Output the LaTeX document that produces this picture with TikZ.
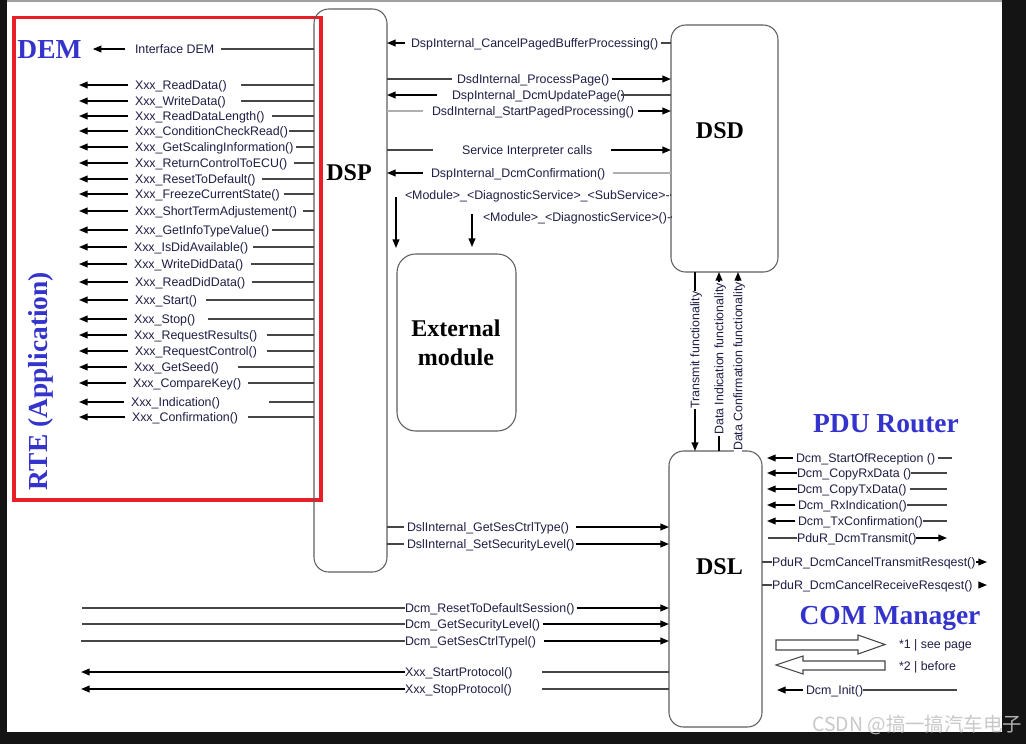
\documentclass[tikz,border=0pt]{standalone}
\usepackage{fontspec}
\setmainfont{Liberation Serif}
\setsansfont{Liberation Sans}
\newfontfamily\cjkf{Noto Sans CJK SC}
\usetikzlibrary{arrows.meta,calc,fit}
\definecolor{txtc}{RGB}{30,30,70}
\definecolor{bluec}{RGB}{52,52,204}
\definecolor{bgdark}{RGB}{20,20,20}
\definecolor{topg}{RGB}{160,160,160}
\definecolor{redc}{RGB}{232,30,40}
\definecolor{boxc}{RGB}{95,95,95}
\definecolor{lineg}{RGB}{70,70,70}
\definecolor{lightg}{RGB}{175,175,175}
\definecolor{wmc}{RGB}{195,195,195}
\tikzset{
  lbl/.style={font=\sffamily\fontsize{9.3}{11}\selectfont, text=txtc, inner sep=0pt, outer sep=0pt, text height=6.7pt, text depth=0pt, anchor=west},
  vlbl/.style={font=\sffamily\fontsize{9.3}{11}\selectfont, text=txtc, inner xsep=0.6pt, inner ysep=0pt, text height=6.7pt, text depth=0pt, rotate=90, fill=white, anchor=center},
  arr/.style={draw=black, line width=1.1pt, -{Triangle[length=6.4pt,width=5pt]}},
  ln/.style={draw=lineg, line width=0.9pt},
  lnl/.style={draw=lightg, line width=0.9pt},
  box/.style={draw=boxc, line width=0.8pt, rounded corners=11pt, inner sep=0pt, outer sep=0pt},
  big/.style={font=\rmfamily\bfseries\fontsize{20.6}{24}\selectfont, text=bluec, inner sep=0pt, text height=13.6pt, text depth=0pt},
  boxlbl/.style={font=\rmfamily\bfseries\fontsize{18}{21.75}\selectfont, text=black, inner sep=0pt, text height=11.9pt, text depth=0pt},
  hollow/.style={draw=lineg, line width=0.8pt, fill=white},
}
\begin{document}
\begin{tikzpicture}[x=0.75pt,y=-0.75pt]
\useasboundingbox (0,0) rectangle (1026,744);
% frame
\fill[bgdark] (0,0) rectangle (1026,744);
\fill[white] (7,2) rectangle (1002,732);
\draw[topg, line width=1.5pt] (7,1) -- (1002,1);
% red highlight
\draw[redc, line width=2.3pt] (14,17.5) rectangle (321,500);

% boxes
\node[box, fit={(314,9) (387,572)}] (dsp) {};
\node[box, fit={(671,25) (778,272)}] (dsd) {};
\node[box, rounded corners=14pt, fit={(397,254) (516,431)}] (ext) {};
\node[box, fit={(669,451) (762,727)}] (dsl) {};
\node[boxlbl] (dsplbl) at (349,173) {DSP};
\node[boxlbl] (dsdlbl) at (720,131) {DSD};
\node[boxlbl] (dsllbl) at (719.5,567) {DSL};
\node[font=\rmfamily\bfseries\fontsize{18}{21.75}\selectfont, align=center, inner sep=0pt] (extlbl) at (456,343) {External\\module};

% big labels
\node[big] (dem) at (49.5,49) {DEM};
\node[big, rotate=90] (rte) at (38,381) {RTE (Application)};
\node[big] (pdur) at (886,423) {PDU Router};
\node[big] (comm) at (890,615) {COM Manager};

% DEM interface
\node[lbl] (ifd) at (135,49) {Interface DEM};
\draw[arr, shorten >=8.25pt] ([xshift=-7.5pt]ifd.west) -- (dem.east);
\draw[ln] ([xshift=5.25pt]ifd.east) -- (ifd.east -| dsp.west);

% RTE list
\foreach \y/\lab/\tx/\sx [count=\i] in {
  85/Xxx\_ReadData()/135/241,
  101/Xxx\_WriteData()/135/241,
  116/Xxx\_ReadDataLength()/135/272,
  131/Xxx\_ConditionCheckRead()/135/289,
  147/Xxx\_GetScalingInformation()/135/296,
  163/Xxx\_ReturnControlToECU()/135/294,
  179/Xxx\_ResetToDefault()/135/262,
  194/Xxx\_FreezeCurrentState()/135/284,
  211/Xxx\_ShortTermAdjustement()/135/303,
  230/Xxx\_GetInfoTypeValue()/135/272,
  247/Xxx\_IsDidAvailable()/134/253,
  264/Xxx\_WriteDidData()/134/251,
  282/Xxx\_ReadDidData()/135/252,
  300/Xxx\_Start()/135/206,
  319/Xxx\_Stop()/134/208,
  335/Xxx\_RequestResults()/134/267,
  351/Xxx\_RequestControl()/135/267,
  367/Xxx\_GetSeed()/134/238,
  383/Xxx\_CompareKey()/133/248,
  402/Xxx\_Indication()/131/269,
  417/Xxx\_Confirmation()/132/248}{
  \node[lbl] (L\i) at (\tx,\y) {\lab};
  \coordinate (A\i) at (79,\y);
  \coordinate (S\i) at (\sx,\y);
  \draw[arr] ([xshift=-5.25pt]L\i.west) -- (A\i);
  \draw[ln] (S\i) -- (S\i -| dsp.west);
}

% DSP <-> DSD
\node[lbl] (m1) at (411,43) {DspInternal\_CancelPagedBufferProcessing()};
\draw[arr] ([xshift=-4.5pt]m1.west) -- (m1.west -| dsp.east);
\draw[ln] ([xshift=2.25pt]m1.east) -- (m1.east -| dsd.west);

\node[lbl] (m2) at (457,79) {DsdInternal\_ProcessPage()};
\draw[ln] (m2.west -| dsp.east) -- ([xshift=-3.75pt]m2.west);
\draw[arr] ([xshift=2.25pt]m2.east) -- (m2.east -| dsd.west);

\node[lbl] (m3) at (452,95) {DspInternal\_DcmUpdatePage()};
\draw[arr] ([xshift=-11.25pt]m3.west) -- (m3.west -| dsp.east);
\draw[ln] ([xshift=-3pt]m3.east) -- (m3.east -| dsd.west);

\node[lbl] (m4) at (432,111) {DsdInternal\_StartPagedProcessing()};
\draw[lnl] (m4.west -| dsp.east) -- ([xshift=-6.75pt]m4.west);
\draw[arr] ([xshift=3pt]m4.east) -- (m4.east -| dsd.west);

\node[lbl] (m5) at (462,150) {Service Interpreter calls};
\draw[ln] (m5.west -| dsp.east) -- ([xshift=-21.75pt]m5.west);
\draw[arr] ([xshift=14.25pt]m5.east) -- (m5.east -| dsd.west);

\node[lbl] (m6) at (431,173) {DspInternal\_DcmConfirmation()};
\draw[arr] ([xshift=-6pt]m6.west) -- (m6.west -| dsp.east);
\draw[lnl] ([xshift=6pt]m6.east) -- (m6.east -| dsd.west);

\node[lbl] (m7) at (405,195) {<Module>\_<DiagnosticService>\_<SubService>-};
\draw[ln] (m7.east) -- (m7.east -| dsd.west);
\node[lbl] (m8) at (483,217) {<Module>\_<DiagnosticService>()-};
\draw[ln] (m8.east) -- (m8.east -| dsd.west);

\coordinate (d1) at (396,197);
\coordinate (d2) at (472,214);
\draw[arr, shorten >=4.5pt] (d1) -- (d1 |- ext.north);
\draw[arr, shorten >=5.25pt] (d2) -- (d2 |- ext.north);

% DSD <-> DSL
\coordinate (vx1) at (695,0);
\coordinate (vx2) at (719,0);
\coordinate (vx3) at (738,0);
\draw[arr] (vx1 |- dsd.south) -- (vx1 |- dsl.north);
\draw[arr] (vx2 |- dsl.north) -- (vx2 |- dsd.south);
\draw[arr] (vx3 |- dsl.north) -- (vx3 |- dsd.south);
\node[vlbl] (v1) at (695,350) {Transmit functionality};
\node[vlbl] (v2) at (719,359) {Data Indication functionality};
\node[vlbl] (v3) at (738,366.5) {Data Confirmation functionality};

% DSP/RTE <-> DSL
\node[lbl] (b1) at (407,527) {DslInternal\_GetSesCtrlType()};
\draw[ln] (b1.west -| dsp.east) -- ([xshift=-2.25pt]b1.west);
\draw[arr] ([xshift=5.25pt]b1.east) -- (b1.east -| dsl.west);

\node[lbl] (b2) at (407,544) {DslInternal\_SetSecurityLevel()};
\draw[ln] (b2.west -| dsp.east) -- ([xshift=-2.25pt]b2.west);
\draw[arr] ([xshift=1pt]b2.east) -- (b2.east -| dsl.west);

\node[lbl] (b3) at (405,608) {Dcm\_ResetToDefaultSession()};
\coordinate (b3s) at (82,608);
\draw[ln] (b3s) -- (b3.west);
\draw[arr] ([xshift=1.5pt]b3.east) -- (b3.east -| dsl.west);

\node[lbl] (b4) at (405,624) {Dcm\_GetSecurityLevel()};
\coordinate (b4s) at (82,624);
\draw[ln] (b4s) -- (b4.west);
\draw[arr] ([xshift=2.25pt]b4.east) -- (b4.east -| dsl.west);

\node[lbl] (b5) at (405,641) {Dcm\_GetSesCtrlTypel()};
\coordinate (b5s) at (81,641);
\draw[ln] (b5s) -- (b5.west);
\draw[arr] ([xshift=6pt]b5.east) -- (b5.east -| dsl.west);

\node[lbl] (b6) at (405,672) {Xxx\_StartProtocol()};
\coordinate (b6a) at (81,672);
\coordinate (b6s) at (542,672);
\draw[arr] (b6.west) -- (b6a);
\draw[ln] (b6s) -- (b6s -| dsl.west);

\node[lbl] (b7) at (405,689) {Xxx\_StopProtocol()};
\coordinate (b7a) at (81,689);
\coordinate (b7s) at (542,689);
\draw[arr] (b7.west) -- (b7a);
\draw[ln] (b7s) -- (b7s -| dsl.west);

% PDU Router side
\node[lbl] (r1) at (796,458) {Dcm\_StartOfReception ()};
\coordinate (r1e) at (952,458);
\draw[arr, shorten >=3.75pt] ([xshift=-2.25pt]r1.west) -- (r1.west -| dsl.east);
\draw[ln] ([xshift=2.25pt]r1.east) -- (r1e);

\node[lbl] (r2) at (797,473) {Dcm\_CopyRxData ()};
\coordinate (r2e) at (947,473);
\draw[arr, shorten >=3.75pt] (r2.west) -- (r2.west -| dsl.east);
\draw[ln] (r2.east) -- (r2e);

\node[lbl] (r3) at (797,489) {Dcm\_CopyTxData()};
\coordinate (r3e) at (947,489);
\draw[arr, shorten >=3.75pt] (r3.west) -- (r3.west -| dsl.east);
\draw[ln] ([xshift=2.25pt]r3.east) -- (r3e);

\node[lbl] (r4) at (798,505) {Dcm\_RxIndication()};
\coordinate (r4e) at (947,505);
\draw[arr, shorten >=3.75pt] ([xshift=-2.25pt]r4.west) -- (r4.west -| dsl.east);
\draw[ln] (r4.east) -- (r4e);

\node[lbl] (r5) at (798,521) {Dcm\_TxConfirmation()};
\coordinate (r5e) at (947,521);
\draw[arr, shorten >=3.75pt] ([xshift=-2.25pt]r5.west) -- (r5.west -| dsl.east);
\draw[ln] (r5.east) -- (r5e);

\node[lbl] (r6) at (797,538) {PduR\_DcmTransmit()};
\coordinate (r6e) at (947,538);
\draw[ln, shorten <=4.5pt] (r6.west -| dsl.east) -- (r6.west);
\draw[arr] (r6.east) -- (r6e);

\node[lbl] (r7) at (772,562) {PduR\_DcmCancelTransmitResqest()};
\coordinate (r7e) at (987,562);
\draw[ln] (r7.west -| dsl.east) -- (r7.west);
\draw[arr] ([xshift=0.5pt]r7.east) -- (r7e);

\node[lbl] (r8) at (772,585) {PduR\_DcmCancelReceiveResqest()};
\coordinate (r8e) at (987,585);
\draw[ln] (r8.west -| dsl.east) -- (r8.west);
\draw[arr] ([xshift=5pt]r8.east) -- (r8e);

% COM Manager side
\draw[hollow] (776,640) -- (858,640) -- (858,635) -- (885,644.5) -- (858,654) -- (858,650) -- (776,650) -- cycle;
\draw[hollow] (776,665) -- (803,656) -- (803,661) -- (885,661) -- (885,670) -- (803,670) -- (803,674) -- cycle;
\node[lbl] (n1) at (899,644) {*1 | see page};
\node[lbl] (n2) at (899,666) {*2 | before};

\node[lbl] (di) at (806,690) {Dcm\_Init()};
\coordinate (dia) at (777,690);
\coordinate (die) at (957,690);
\draw[arr] ([xshift=-2.25pt]di.west) -- (dia);
\draw[ln] (di.east) -- (die);

% watermark
\node[font=\cjkf\fontsize{14.6}{17}\selectfont, text=wmc, text opacity=0.9, anchor=west, inner sep=0pt] (wm) at (812,725) {CSDN @搞一搞汽车电子};
\end{tikzpicture}
\end{document}
